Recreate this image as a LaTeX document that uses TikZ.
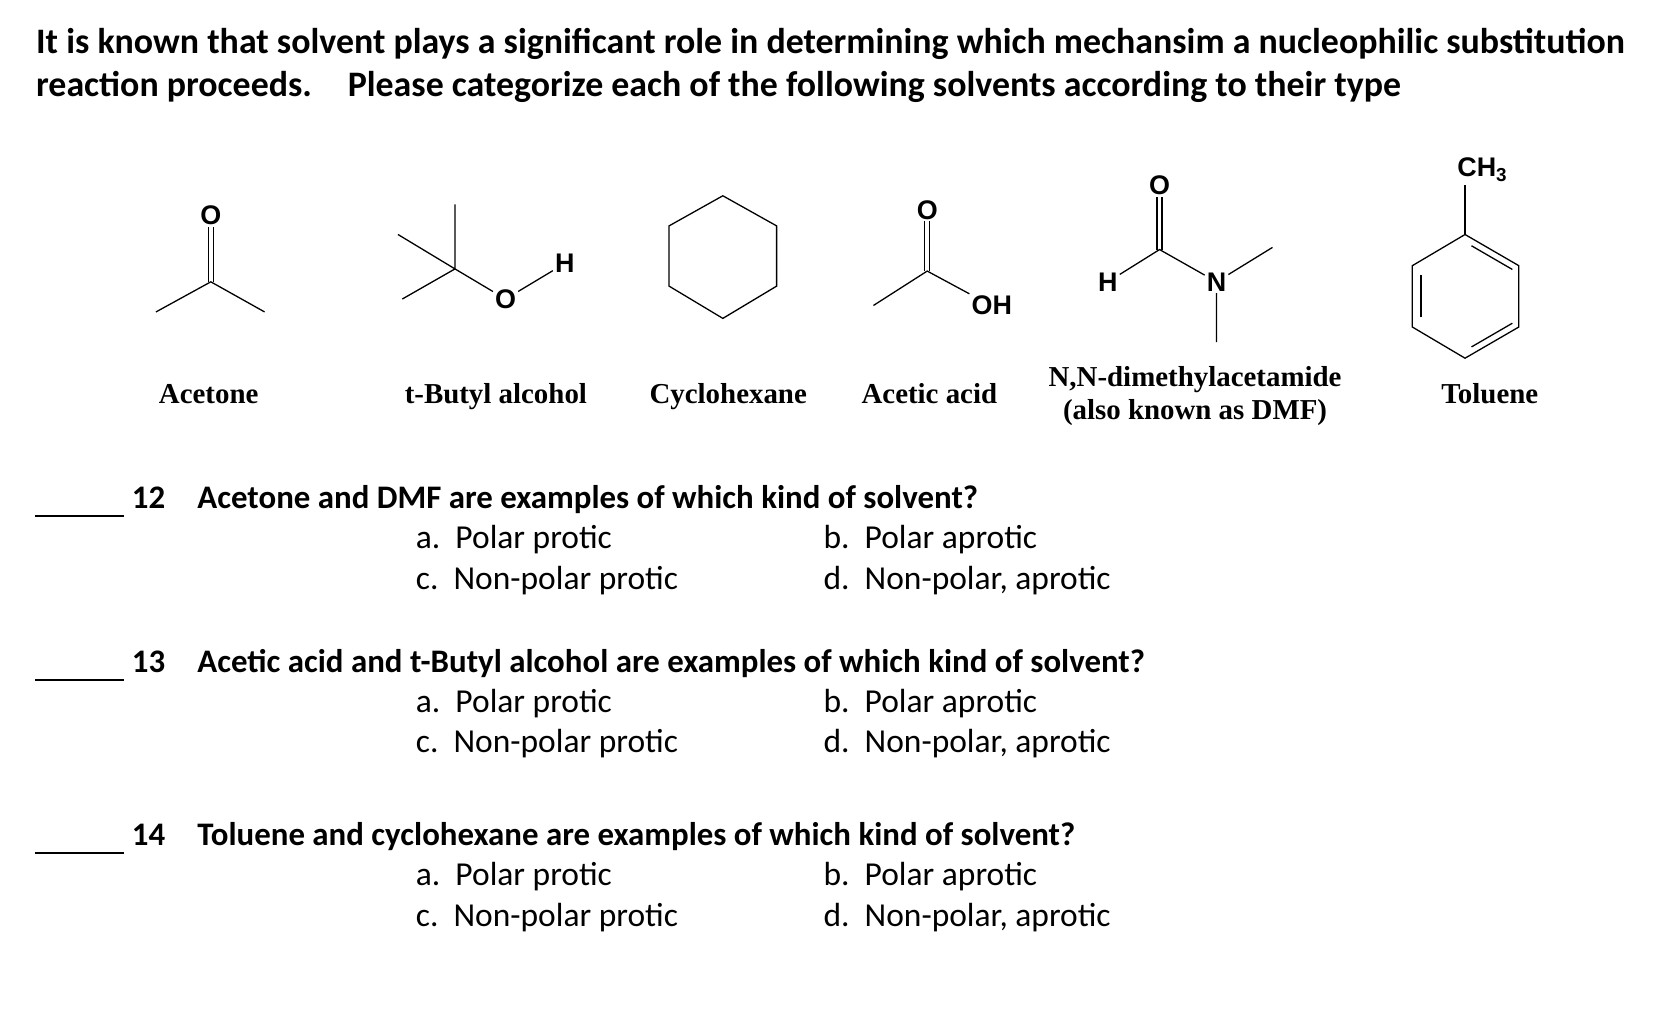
\documentclass[tikz,border=0pt]{standalone}
\usepackage{fontspec}
\usetikzlibrary{calc}
\setmainfont{Carlito}
\newfontfamily\serifb{Liberation Serif}
\newfontfamily\atomf{Liberation Sans}
\begin{document}
\begin{tikzpicture}[x=1.0756bp,y=-1.0756bp,line width=1.3pt,
  txt/.style={anchor=base west,inner sep=0pt,font=\fontsize{33.6}{40}\selectfont},
  qb/.style={txt,font=\fontsize{33}{40}\selectfont\bfseries},
  ttl/.style={txt,font=\fontsize{36}{42}\selectfont\bfseries},
  lbl/.style={anchor=base,inner sep=0pt,font=\serifb\fontsize{29}{34}\selectfont\bfseries},
  atom/.style={inner sep=1.5pt,font=\atomf\fontsize{27}{30}\selectfont\bfseries},
  blank/.style={line width=2pt}]
\useasboundingbox (0,0) rectangle (1560,940.8);
\node[ttl] (t1) at (33,50) {It is known that solvent plays a significant role in determining which mechansim a nucleophilic substitution};
\node[ttl] (t2) at (33,90) {reaction proceeds.\quad Please categorize each of the following solvents according to their type};
% Acetone
\node[atom] (aO) at (196,200) {O};
\coordinate (aC) at (196,262);
\coordinate (aM1) at (145,290); \coordinate (aM2) at (246,290);
\draw ([xshift=-2.5pt]aC) -- ([xshift=-2.5pt]aO.south) ([xshift=2.5pt]aC) -- ([xshift=2.5pt]aO.south);
\draw (aM1) -- (aC) -- (aM2);
% tBuOH
\coordinate (bC) at (423,250); \coordinate (bT) at (423,190);
\coordinate (bL1) at (370,218); \coordinate (bL2) at (374,278);
\node[atom] (bO) at (470,278) {O};
\node[atom] (bH) at (525,245) {H};
\draw (bT) -- (bC) (bL1) -- (bC) -- (bL2) (bC) -- (bO) (bO) -- (bH);
% cyclohexane
\draw (672,182) coordinate (c1) -- (722,210) coordinate (c2) -- (722,266) coordinate (c3) -- (672,296) coordinate (c4) -- (622,266) coordinate (c5) -- (622,210) coordinate (c6) -- cycle;
% acetic acid
\node[atom] (dO) at (862,195) {O};
\coordinate (dC) at (862,252); \coordinate (dM) at (812,284);
\node[atom] (dOH) at (922,284) {OH};
\draw ([xshift=-2.5pt]dC) -- ([xshift=-2.5pt]dO.south) ([xshift=2.5pt]dC) -- ([xshift=2.5pt]dO.south);
\draw (dM) -- (dC) -- (dOH.north west);
% DMF
\node[atom] (eO) at (1078,172) {O};
\coordinate (eC) at (1078,232);
\node[atom] (eH) at (1030,262) {H};
\node[atom] (eN) at (1131,262) {N};
\coordinate (eM1) at (1183,230); \coordinate (eM2) at (1131,318);
\draw ([xshift=-2.5pt]eC) -- ([xshift=-2.5pt]eO.south) ([xshift=2.5pt]eC) -- ([xshift=2.5pt]eO.south);
\draw (eH) -- (eC) -- (eN) (eN) -- (eM1) (eN) -- (eM2);
% toluene
\node[atom] (fM) at (1378,158) {CH\textsubscript{3}};
\coordinate (f1) at (1362,218); \coordinate (f2) at (1412,247); \coordinate (f3) at (1412,304);
\coordinate (f4) at (1362,333); \coordinate (f5) at (1313,304); \coordinate (f6) at (1313,247);
\draw (1362,172) -- (f1);
\draw (f1) -- (f2) -- (f3) -- (f4) -- (f5) -- (f6) -- cycle;
\draw ($(f1)!0.12!(f2)+(0,7)$) -- ($(f1)!0.88!(f2)+(0,7)$);
\draw (1321,256) -- (1321,295);
\draw ($(f3)!0.12!(f4)+(0,-7)$) -- ($(f3)!0.88!(f4)+(0,-7)$);
% labels
\node[lbl] (l1) at (194,375) {Acetone};
\node[lbl] (l2) at (461,375) {t-Butyl alcohol};
\node[lbl] (l3) at (677,375) {Cyclohexane};
\node[lbl] (l4) at (864,375) {Acetic acid};
\node[lbl] (l5) at (1111,359) {N,N-dimethylacetamide};
\node[lbl] (l6) at (1111,390) {(also known as DMF)};
\node[lbl] (l7) at (1385,375) {Toluene};
% questions
\foreach \n/\y/\q in {12/473/{Acetone and DMF are examples of which kind of solvent?},
                      13/625/{Acetic acid and t-Butyl alcohol are examples of which kind of solvent?},
                      14/786/{Toluene and cyclohexane are examples of which kind of solvent?}}{
  \draw[blank] (33,\y+7) coordinate (bl\n) -- (115,\y+7) coordinate (br\n);
  \node[qb] (n\n) at (122,\y) {\n};
  \node[qb] (q\n) at (183,\y) {\q};
  \node[txt] (a\n) at (386,\y+37) {a.\ \ Polar protic};
  \node[txt] (b\n) at (765,\y+37) {b.\ \ Polar aprotic};
  \node[txt] (c\n) at (386,\y+75) {c.\ \ Non-polar protic};
  \node[txt] (d\n) at (765,\y+75) {d.\ \ Non-polar, aprotic};
}
\end{tikzpicture}
\end{document}
